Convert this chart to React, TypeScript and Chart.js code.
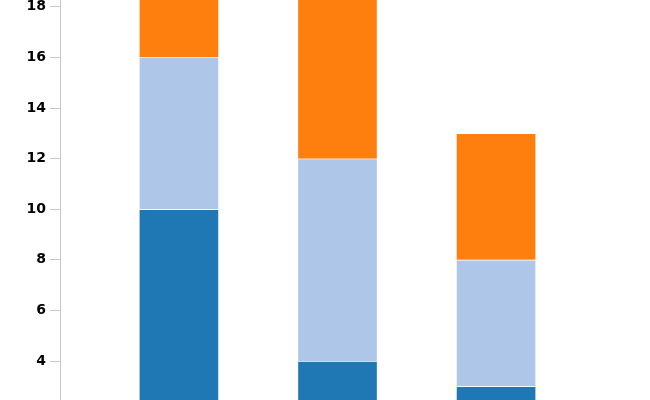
import { useEffect, useRef } from 'react';
import { Chart, registerables } from 'chart.js';

Chart.register(...registerables);

// bar positions along the x axis (category index)
const positions = [0, 1, 2];
const seriesNames = ['Series 1', 'Series 2', 'Series 3'];
const bottomValues = [10, 4, 3];
const middleValues = [6, 8, 5];
const topValues = [4, 8, 5];
const yTicks = [4, 6, 8, 10, 12, 14, 16, 18];

const colors = ['#1f77b4', '#aec7e8', '#ff7f0e'];

export default function App() {
    const chartRef = useRef<HTMLCanvasElement>(null);

    useEffect(() => {
        document.body.style.margin = '0';
        if (!chartRef.current) return;
        const ctx = chartRef.current.getContext('2d');
        if (!ctx) return;

        const series = [bottomValues, middleValues, topValues];

        const chart = new Chart(ctx, {
            type: 'bar',
            data: {
                datasets: series.map((values, i) => ({
                    label: seriesNames[i],
                    data: values.map((v, j) => ({ x: positions[j], y: v })),
                    backgroundColor: colors[i],
                    borderColor: 'rgba(255, 255, 255, 0.4)',
                    borderWidth: 1,
                    barThickness: 80,
                })),
            },
            options: {
                responsive: true,
                maintainAspectRatio: false,
                animation: false,
                layout: { padding: { top: 0, bottom: 0, left: 0, right: 35 } },
                plugins: {
                    legend: { display: false },
                    tooltip: { enabled: false },
                },
                scales: {
                    x: {
                        type: 'linear',
                        stacked: true,
                        display: false,
                        min: -0.75,
                        max: 2.75,
                        offset: false,
                    },
                    y: {
                        stacked: true,
                        min: 2.46,
                        max: 18.27,
                        afterBuildTicks: (scale) => {
                            scale.ticks = yTicks.map(v => ({ value: v }));
                        },
                        afterFit: (scale) => {
                            scale.width = 60;
                            scale.paddingTop = 0;
                            scale.paddingBottom = 0;
                        },
                        grid: {
                            drawOnChartArea: false,
                            drawTicks: true,
                            tickLength: 10,
                            color: '#c8c8c8',
                        },
                        border: {
                            color: '#c8c8c8',
                            width: 1,
                        },
                        ticks: {
                            color: '#000000',
                            padding: 4,
                            font: {
                                family: 'DejaVu Sans',
                                size: 14,
                                weight: 'bold',
                            },
                        },
                    },
                },
            },
        });

        return () => {
            chart.destroy();
        };
    }, []);

    return (
        <div style={{ position: 'relative', width: 650, height: 400 }}>
            <canvas ref={chartRef} />
        </div>
    );
}
